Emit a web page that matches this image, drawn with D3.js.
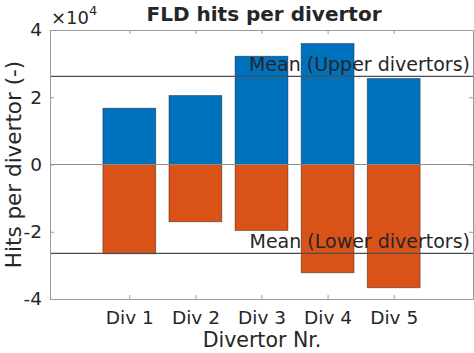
<!DOCTYPE html>
<html>
<head>
<meta charset="utf-8">
<script src="https://cdn.jsdelivr.net/npm/d3@7"></script>
<style>
body { margin: 0; background: #fff; }
text { font-family: "DejaVu Sans", sans-serif; fill: #262626; }
</style>
</head>
<body>
<svg id="svg"></svg>
<script>
var width = 474, height = 353;

// data
var divertors = ["Div 1", "Div 2", "Div 3", "Div 4", "Div 5"];
var upperHits = [16740, 20520, 32200, 35990, 25580];
var lowerHits = [-26560, -17040, -19630, -32210, -36670];
var yTicks = [-40000, -20000, 0, 20000, 40000];

var svg = d3.select("#svg")
	.attr("width", width)
	.attr("height", height);

var plotL = 50, plotR = 473, plotT = 30, plotB = 299;

var x = d3.scaleLinear().domain([-0.2, 6.2]).range([plotL, plotR]);
var y = d3.scaleLinear().domain([-40000, 40000]).range([plotB, plotT]);
var barW = x(0.8) - x(0);

var boxColor = "#9a9a9a";

// bars
function bars(vals, fill, cls) {
	svg.selectAll("." + cls)
		.data(vals)
		.enter().append("rect")
		.attr("class", cls)
		.attr("x", function(d, i) { return x(i + 1) - barW / 2; })
		.attr("y", function(d) { return y(Math.max(d, 0)); })
		.attr("width", barW)
		.attr("height", function(d) { return Math.abs(y(d) - y(0)); })
		.attr("fill", fill)
		.attr("stroke", "#000")
		.attr("stroke-opacity", 0.45)
		.attr("stroke-width", 0.8);
}
bars(upperHits, "#0072BD", "up");
bars(lowerHits, "#D95319", "low");

// zero baseline
svg.append("line")
	.attr("x1", plotL).attr("x2", plotR)
	.attr("y1", y(0)).attr("y2", y(0))
	.attr("stroke", "#8c8c8c").attr("stroke-width", 1);

// mean lines
var means = [
	{ v: d3.mean(upperHits), label: "Mean (Upper divertors)" },
	{ v: d3.mean(lowerHits), label: "Mean (Lower divertors)" }
];
means.forEach(function(m) {
	svg.append("line")
		.attr("x1", plotL).attr("x2", plotR)
		.attr("y1", y(m.v)).attr("y2", y(m.v))
		.attr("stroke", "#4d4d4d").attr("stroke-width", 1.2);
	svg.append("text")
		.attr("x", 470).attr("y", y(m.v) - 5)
		.attr("text-anchor", "end")
		.attr("font-size", "19px")
		.text(m.label);
});

// axes box with inward ticks
var xAxisB = d3.axisBottom(x).tickValues([1, 2, 3, 4, 5])
	.tickFormat(function(d) { return divertors[d - 1]; })
	.tickSizeInner(-4).tickSizeOuter(0).tickPadding(12);
var xAxisT = d3.axisTop(x).tickValues([1, 2, 3, 4, 5])
	.tickFormat("").tickSizeInner(-4).tickSizeOuter(0);
var yAxisL = d3.axisLeft(y).tickValues(yTicks)
	.tickFormat(function(d) { return d / 10000; })
	.tickSizeInner(-4).tickSizeOuter(0).tickPadding(8);
var yAxisR = d3.axisRight(y).tickValues(yTicks)
	.tickFormat("").tickSizeInner(-4).tickSizeOuter(0);

function styleAxis(g) {
	g.selectAll("path, line").attr("stroke", boxColor);
	g.selectAll("text").attr("font-size", "18.5px").attr("fill", "#262626")
		.attr("font-family", "DejaVu Sans, sans-serif");
}
svg.append("g").attr("transform", "translate(0," + plotB + ")").call(xAxisB).call(styleAxis);
svg.append("g").attr("transform", "translate(0," + plotT + ")").call(xAxisT).call(styleAxis);
svg.append("g").attr("transform", "translate(" + plotL + ",0)").call(yAxisL).call(styleAxis);
svg.append("g").attr("transform", "translate(" + plotR + ",0)").call(yAxisR).call(styleAxis);

// exponent label
var ex = svg.append("text").attr("x", 51).attr("y", 24).attr("font-size", "18px");
ex.append("tspan").text("\u00d710");
ex.append("tspan").attr("dy", -9).attr("font-size", "13px").text("4");

// title
svg.append("text")
	.attr("x", 264).attr("y", 21)
	.attr("text-anchor", "middle")
	.attr("font-size", "20px")
	.attr("font-weight", "bold")
	.attr("fill", "#000")
	.text("FLD hits per divertor");

// axis labels
svg.append("text")
	.attr("x", 262).attr("y", 347)
	.attr("text-anchor", "middle")
	.attr("font-size", "20.5px")
	.text("Divertor Nr.");

svg.append("text")
	.attr("transform", "translate(21," + y(0) + ") rotate(-90)")
	.attr("text-anchor", "middle")
	.attr("font-size", "21.5px")
	.text("Hits per divertor (-)");
</script>
</body>
</html>
